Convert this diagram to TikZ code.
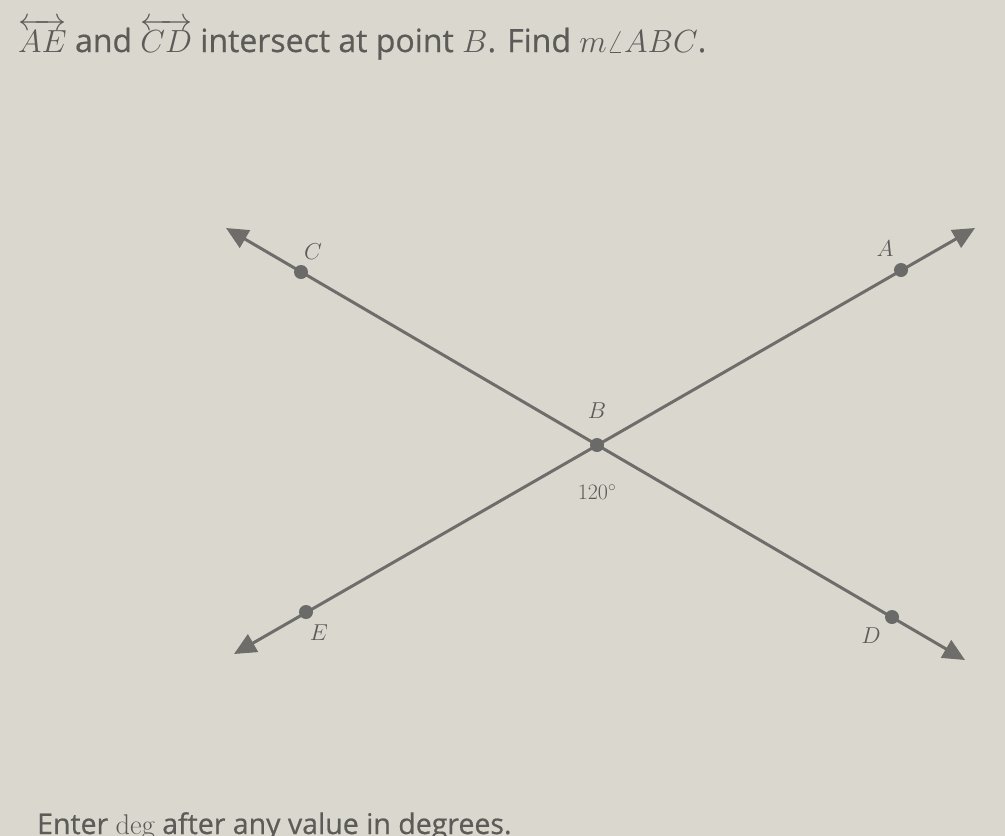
\RequirePackage{fix-cm}
\documentclass[tikz,border=0pt]{standalone}
\usepackage{amsmath}
\usepackage{fontspec}
\setmainfont{Open Sans}[FakeBold=0.6]
\usetikzlibrary{arrows.meta}
\definecolor{bg}{HTML}{DAD7CF}
\definecolor{ln}{HTML}{6E6D6A}
\definecolor{txt}{HTML}{5C5B58}
\definecolor{dot}{HTML}{6A6A68}
\newcommand{\lmr}{\fontspec{Latin Modern Roman}}
\tikzset{
  pt/.style={circle,fill=dot,inner sep=0pt,minimum size=14pt},
  ptlabel/.style={text=txt,font=\fontsize{23}{27}\selectfont,inner sep=0pt},
  geoline/.style={draw=ln,line width=3pt,{Triangle[length=22pt,width=20pt]}-{Triangle[length=22pt,width=20pt]}},
}
\begin{document}
\begin{tikzpicture}[x=1pt,y=-1pt]
\fill[bg] (0,0) rectangle (1005,836);
\useasboundingbox (0,0) rectangle (1005,836);
% line ends
\coordinate (t1) at (226,228);
\coordinate (t2) at (965,660);
\coordinate (t3) at (234,654);
\coordinate (t4) at (975,228);
\draw[geoline] (t1) -- (t2);
\draw[geoline] (t3) -- (t4);
% points
\node[pt] (C) at (301,272) {};
\node[pt] (B) at (597,445) {};
\node[pt] (E) at (306,612) {};
\node[pt] (A) at (901,270) {};
\node[pt] (D) at (892,617) {};
% labels
\node[ptlabel] (lC) at (313,252) {$C$};
\node[ptlabel] (lB) at (597,411) {$B$};
\node[ptlabel] (lE) at (319,633) {$E$};
\node[ptlabel] (lA) at (885,249) {$A$};
\node[ptlabel] (lD) at (871,636) {$D$};
\node[ptlabel,font=\fontsize{22}{26}\selectfont] (ang) at (597,492) {\lmr 120$^\circ$};
% title
\node[anchor=base west,inner sep=0pt,text=txt,font=\fontsize{32}{37}\selectfont] (title) at (18,52)
  {$\overleftrightarrow{AE}$ and $\overleftrightarrow{CD}$ intersect at point $B$. Find $m\angle ABC$.};
% bottom text
\node[anchor=base west,inner sep=0pt,text=txt,font=\fontsize{28.5}{33}\selectfont] (hint) at (37,834)
  {Enter {\lmr deg} after any value in degrees.};
\end{tikzpicture}
\end{document}
